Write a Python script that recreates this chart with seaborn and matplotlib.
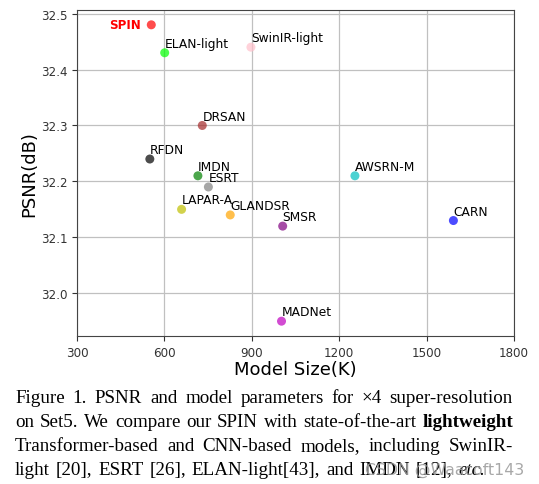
import matplotlib
matplotlib.use("Agg")
import matplotlib.pyplot as plt
import seaborn as sns
import pandas as pd

models = ["SPIN", "ELAN-light", "SwinIR-light", "DRSAN", "RFDN", "IMDN", "ESRT",
          "LAPAR-A", "GLANDSR", "SMSR", "MADNet", "AWSRN-M", "CARN"]
params = [555, 601, 897, 730, 550, 715, 751, 659, 826, 1006, 1002, 1254, 1592]
psnr = [32.48, 32.43, 32.44, 32.30, 32.24, 32.21, 32.19, 32.15, 32.14, 32.12, 31.95, 32.21, 32.13]
colors = ["red", "lime", "pink", "brown", "black", "green", "gray",
          "y", "orange", "purple", "m", "c", "b"]
x_ticks = [300, 600, 900, 1200, 1500, 1800]

caption_lines = [
    [("Figure", "normal", "normal"), ("1.", "normal", "normal"), ("PSNR", "normal", "normal"),
     ("and", "normal", "normal"), ("model", "normal", "normal"), ("parameters", "normal", "normal"),
     ("for", "normal", "normal"), ("\u00d74", "normal", "normal"), ("super-resolution", "normal", "normal")],
    [("on", "normal", "normal"), ("Set5.", "normal", "normal"), ("We", "normal", "normal"),
     ("compare", "normal", "normal"), ("our", "normal", "normal"), ("SPIN", "normal", "normal"),
     ("with", "normal", "normal"), ("state-of-the-art", "normal", "normal"), ("lightweight", "bold", "normal")],
    [("Transformer-based", "normal", "normal"), ("and", "normal", "normal"), ("CNN-based", "normal", "normal"),
     ("models,", "normal", "normal"), ("including", "normal", "normal"), ("SwinIR-", "normal", "normal")],
    [("light", "normal", "normal"), ("[20],", "normal", "normal"), ("ESRT", "normal", "normal"),
     ("[26],", "normal", "normal"), ("ELAN-light[43],", "normal", "normal"), ("and", "normal", "normal"),
     ("IMDN", "normal", "normal"), ("[12],", "normal", "normal"), ("etc.", "normal", "italic")],
]
watermark = "CSDN @Waacoft143"

df = pd.DataFrame({"model": models, "params": params, "psnr": psnr})

W, H = 539, 485
fig = plt.figure(figsize=(W / 100, H / 100), dpi=100)
ax = fig.add_axes([77 / W, 1 - 337 / H, (514 - 77) / W, (337 - 11) / H])

sns.scatterplot(data=df, x="params", y="psnr", hue="model", palette=dict(zip(models, colors)),
                s=42, alpha=0.7, linewidth=0, legend=False, ax=ax, zorder=3)

for m, xv, yv in zip(models, params, psnr):
    if m == "SPIN":
        ax.text(xv - 36, yv, m, color="red", fontsize=8.6, fontweight="bold",
                ha="right", va="center")
    else:
        ax.text(xv, yv + 0.0105, m, color="black", fontsize=8.8, ha="left", va="baseline")

ax.set_xlim(300, 1800)
ax.set_xticks(x_ticks)
ax.set_yticks([32.0, 32.1, 32.2, 32.3, 32.4, 32.5])
ax.margins(y=0.05)
ax.tick_params(labelsize=8.6, colors="#333333")
ax.grid(True, color="#c0c0c0", linewidth=0.9, zorder=0)
ax.set_axisbelow(True)
for s in ax.spines.values():
    s.set_color("#444444")
ax.set_xlabel("Model Size(K)", fontsize=13, labelpad=1)
ax.set_ylabel("PSNR(dB)", fontsize=13, labelpad=2)

# caption, justified
renderer = fig.canvas.get_renderer()
left_px, right_px = 15, 513
baselines = [403, 427, 451, 475]
serif = "Liberation Serif"
fs = 13.7
for i, (line, base) in enumerate(zip(caption_lines, baselines)):
    texts = []
    for word, weight, style in line:
        t = fig.text(0, 0, word, fontsize=fs, family=serif, fontweight=weight,
                     fontstyle=style, va="baseline", ha="left", color="black")
        texts.append(t)
    widths = [t.get_window_extent(renderer).width for t in texts]
    total = right_px - left_px
    if i < len(caption_lines) - 1:
        gap = (total - sum(widths)) / (len(texts) - 1)
    else:
        gap = 5.8
    x = left_px
    for t, w in zip(texts, widths):
        t.set_position((x / W, 1 - base / H))
        x += w + gap

fig.text(365 / W, 1 - 475 / H, watermark, fontsize=11.3, color="#999999", alpha=0.85,
         va="baseline", ha="left")

fig.savefig("out.png", dpi=100)
